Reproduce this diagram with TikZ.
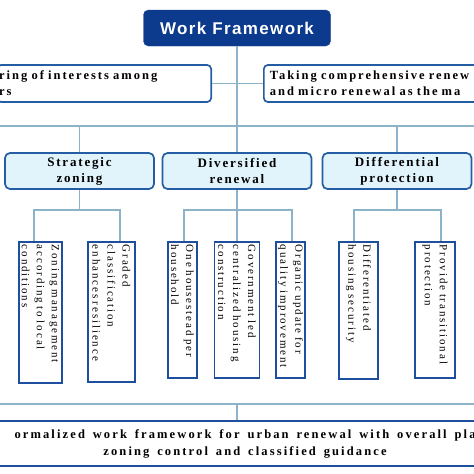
\documentclass[tikz,border=0pt]{standalone}
\usepackage{fontspec}
\setmainfont{Liberation Serif}
\newfontfamily\headfont[LetterSpace=8]{Liberation Sans}
\newfontfamily\sidefont[LetterSpace=16,WordSpace=1.3]{Liberation Serif}
\newfontfamily\groupfont[LetterSpace=14]{Liberation Serif}
\newfontfamily\basefont[LetterSpace=17,WordSpace=2.4]{Liberation Serif}
\newfontfamily\leaffont[LetterSpace=17,WordSpace=1.5]{Liberation Serif}
\definecolor{titleblue}{HTML}{0C3A8C}
\definecolor{edgeblue}{HTML}{245DA3}
\definecolor{paleblue}{HTML}{E1F3FB}
\definecolor{leafblue}{HTML}{1E4E9E}
\definecolor{linkblue}{HTML}{8DB3C8}
\begin{document}
\begin{tikzpicture}[x=1pt,y=-1pt,
    link/.style={draw=linkblue,line width=1.3pt},
    headbox/.style={fill=titleblue,draw=titleblue,rounded corners=5pt,text=white,
      minimum width=187pt,minimum height=36pt,font=\headfont\fontsize{17}{20}\selectfont\bfseries},
    sidebox/.style={draw=edgeblue,line width=1.7pt,fill=white,rounded corners=4pt,align=left,
      minimum height=37pt,inner ysep=2pt,font=\sidefont\fontsize{12.5}{16}\selectfont\bfseries},
    groupbox/.style={draw=edgeblue,line width=1.7pt,fill=paleblue,rounded corners=5pt,align=center,
      minimum width=149pt,minimum height=36pt,inner sep=2pt,font=\groupfont\fontsize{13}{16}\selectfont\bfseries},
    leaf/.style={draw=leafblue,line width=1.8pt,fill=white,rotate=-90,anchor=west,align=left,
      inner xsep=3pt,inner ysep=1pt,font=\leaffont\fontsize{11}{15}\selectfont},
    basebox/.style={draw=leafblue,line width=1.8pt,fill=white,align=center,
      minimum width=600pt,minimum height=45pt,font=\basefont\fontsize{12.5}{17}\selectfont\bfseries}]
\useasboundingbox (0,0) rectangle (474,474);
\clip (0,0) rectangle (474,474);
\coordinate (barl) at (0,126);
\coordinate (barr) at (474,126);
\coordinate (za) at (34,210);
\coordinate (zb) at (120,210);
\coordinate (ra) at (184,210);
\coordinate (rb) at (292,210);
\coordinate (pa) at (354,210);
\coordinate (pb) at (441,210);
\coordinate (footl) at (0,404);
\coordinate (footr) at (474,404);
\draw[link] (barl) -- (barr);
\draw[link] (footl) -- (footr);
\node[headbox] (work) at (237,28) {Work Framework};
\node[sidebox,anchor=east,text width=210pt,inner xsep=2pt] (share) at (212,83.5) {ring of interests among\\rs};
\node[sidebox,anchor=west,text width=280pt,inner xsep=6pt] (mode) at (263,83.5) {Taking comprehensive renew\\and micro renewal as the ma};
\node[groupbox] (zoning) at (79.5,171) {Strategic\\zoning};
\node[groupbox] (renewal) at (237,171) {Diversified\\renewal};
\node[groupbox] (protection) at (397,171) {Differential\\protection};
\node[leaf,text width=135pt,minimum height=43pt] (local) at (40.5,241) {Zoning management\\according to local\\conditions};
\node[leaf,text width=134pt,minimum height=47pt] (graded) at (111.5,241) {Graded\\classification\\enhances resilience};
\node[leaf,text width=130pt,minimum height=29pt] (house) at (182.5,241) {One housestead per\\household};
\node[leaf,text width=130pt,minimum height=45pt] (central) at (237,241) {Government led\\centralized housing\\construction};
\node[leaf,text width=130pt,minimum height=29pt] (organic) at (290.5,241) {Organic update for\\quality improvement};
\node[leaf,text width=131pt,minimum height=39pt] (secure) at (358.5,241) {Differentiated\\housing security};
\node[leaf,text width=130pt,minimum height=40pt] (transit) at (435,241) {Provide transitional\\protection};
\node[basebox] (guide) at (245,443.5) {ormalized work framework for urban renewal with overall pla\\zoning control and classified guidance};
\draw[link] (work.south) -- (renewal.north);
\draw[link] (share.east) -- (mode.west);
\draw[link] (zoning.north) -- (zoning.north |- barl);
\draw[link] (protection.north) -- (protection.north |- barl);
\draw[link] (zoning.south) -- (zoning.south |- za);
\draw[link] (local.west -| za) -- (za) -- (zb) -- (graded.west -| zb);
\draw[link] (renewal.south) -- (central.west);
\draw[link] (house.west -| ra) -- (ra) -- (rb) -- (organic.west -| rb);
\draw[link] (protection.south) -- (protection.south |- pa);
\draw[link] (secure.west -| pa) -- (pa) -- (pb) -- (transit.west -| pb);
\draw[link] (footl -| work) -- (guide.north -| work);
\end{tikzpicture}
\end{document}
